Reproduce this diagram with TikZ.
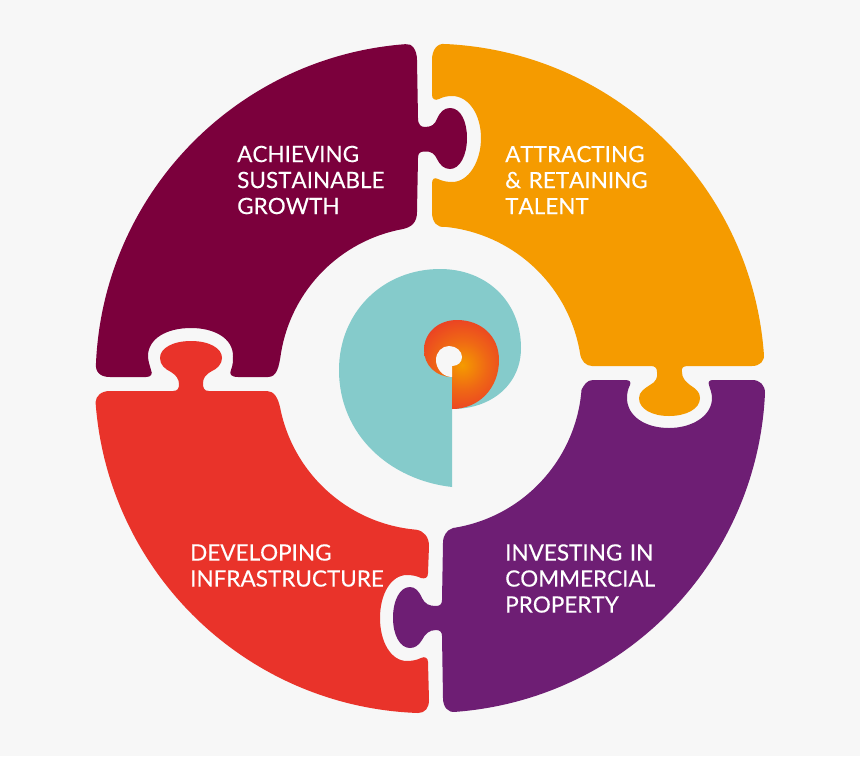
\documentclass[tikz,border=0pt]{standalone}
\usepackage{fontspec}
\setmainfont{Lato}[Kerning=Off,FakeBold=0.25,WordSpace=1.3]
\usepackage{xcolor}
\definecolor{paper}{HTML}{F7F7F7}
\definecolor{maroonpiece}{HTML}{7B003C}
\definecolor{orangepiece}{HTML}{F59B00}
\definecolor{redpiece}{HTML}{E9332A}
\definecolor{purplepiece}{HTML}{6E1E74}
\definecolor{tealspiral}{HTML}{85CBCB}
\pgfdeclareradialshading{spiralglow}{\pgfpointorigin}{color(0bp)=(orangepiece); color(12bp)=(redpiece!50!orangepiece); color(24bp)=(redpiece!90!orangepiece); color(32bp)=(redpiece); color(50bp)=(redpiece)}

\begin{document}
\begin{tikzpicture}[x=1pt, y=1pt, yscale=-1]
    % Styles
    \tikzstyle{label} = [text=white, align=left, anchor=west, inner sep=0pt, font=\fontsize{22.5}{26}\selectfont]

    % Background
    \fill[paper] (0,0) rectangle (860,756);
    \useasboundingbox (0,0) rectangle (860,756);

    % Maroon piece
    \fill[maroonpiece] (96,363) arc[start angle=182.6, end angle=265.7, radius=335]
        .. controls (412,43) and (417,50) .. (417,60)
        -- (418,118) .. controls (418,125) and (421,127) .. (425,127)
        .. controls (432,127) and (435,124) .. (437,119)
        .. controls (440,112) and (444,108) .. (450,108)
        .. controls (461,108) and (467,122) .. (467,138)
        .. controls (467,155) and (460,169) .. (450,169)
        .. controls (444,169) and (440,165) .. (437,159)
        .. controls (435,154) and (431,151) .. (425,151.5)
        .. controls (420,151.5) and (418,153) .. (418,158)
        -- (417,212) .. controls (417,222) and (412,227) .. (403,229)
        arc[start angle=259.7, end angle=189.5, radius=151]
        .. controls (279,367) and (277,377) .. (268,377)
        -- (238,377) .. controls (231,377) and (229,374) .. (231,370)
        .. controls (233,365) and (233,361) .. (233,356)
        .. controls (233,338) and (214,328) .. (191,328)
        .. controls (166,328) and (148,339) .. (148,356)
        .. controls (148,361) and (150,366) .. (151,370)
        .. controls (153,374) and (151,377) .. (146,377)
        -- (110,377) .. controls (100,377) and (95,372) .. (96,363) -- cycle;

    % Orange piece
    \fill[orangepiece] (445,44) arc[start angle=-87.4, end angle=-4.3, radius=335]
        .. controls (765,361) and (760,366) .. (752,366)
        -- (688,366) .. controls (683,366) and (681,368) .. (682,372)
        .. controls (682,378) and (685,381) .. (690,385)
        .. controls (696,389) and (700,392) .. (700,398)
        .. controls (700,409) and (686,416) .. (669,416)
        .. controls (652,416) and (639,409) .. (639,398)
        .. controls (639,392) and (645,388) .. (650,385)
        .. controls (656,382) and (658,377) .. (657,372)
        .. controls (657,368) and (655,366) .. (651,366)
        -- (592,366) .. controls (586,366) and (581,361) .. (580,353)
        arc[start angle=-9.5, end angle=-84.3, radius=152]
        .. controls (437,228) and (432,222) .. (432,212)
        -- (432,184) .. controls (432,179) and (434,177) .. (438,179)
        .. controls (442,181) and (447,182) .. (452,182)
        .. controls (469,182) and (481,161) .. (481,138)
        .. controls (481,115) and (469,96) .. (452,96)
        .. controls (447,96) and (443,97) .. (439,99)
        .. controls (435,101) and (432,99) .. (432,95)
        -- (432,60) .. controls (432,50) and (437,43) .. (445,44) -- cycle;

    % Purple piece
    \fill[purplepiece] (765,393) arc[start angle=2.6, end angle=85.7, radius=335]
        .. controls (448,713) and (443,707) .. (443,698)
        -- (442,636) .. controls (442,632) and (440,630) .. (436,630)
        .. controls (429,630) and (425,634) .. (422,640)
        .. controls (419,645) and (415,648) .. (410,648)
        .. controls (400,648) and (393,635) .. (393,618)
        .. controls (393,600) and (400,587) .. (410,587)
        .. controls (415,587) and (419,591) .. (422,598)
        .. controls (425,604) and (429,606) .. (436,606)
        .. controls (440,606) and (442,604) .. (442,600)
        -- (443,543) .. controls (443,535) and (447,530) .. (453,528)
        arc[start angle=81.3, end angle=4.5, radius=152]
        .. controls (584,385) and (587,380) .. (593,380)
        -- (625,380) .. controls (630,380) and (631,382) .. (630,385)
        .. controls (628,389) and (627,393) .. (627,398)
        .. controls (627,416) and (645,428) .. (669,428)
        .. controls (692,428) and (712,416) .. (712,398)
        .. controls (712,393) and (710,389) .. (709,385)
        .. controls (708,382) and (709,380) .. (713,380)
        -- (752,380) .. controls (760,380) and (765,385) .. (765,393) -- cycle;

    % Red piece
    \fill[redpiece] (418,713) arc[start angle=92, end angle=175.9, radius=335]
        .. controls (96,396) and (101,391) .. (110,391)
        -- (173,391) .. controls (178,391) and (179,388) .. (179,384)
        .. controls (179,379) and (176,375) .. (171,372)
        .. controls (165,369) and (160,365) .. (160,358)
        .. controls (160,348) and (173,341) .. (191,341)
        .. controls (209,341) and (222,348) .. (222,358)
        .. controls (222,364) and (217,369) .. (212,371)
        .. controls (206,374) and (203,378) .. (203,383)
        .. controls (203,388) and (204,391) .. (209,391)
        -- (267,391) .. controls (274,391) and (278,398) .. (280,407)
        arc[start angle=169.1, end angle=94.9, radius=152]
        .. controls (424,531) and (429,537) .. (429,546)
        -- (428,573) .. controls (428,578) and (425,579) .. (421,578)
        .. controls (417,576) and (412,575) .. (407,575)
        .. controls (391,575) and (380,594) .. (380,618)
        .. controls (380,642) and (391,661) .. (407,661)
        .. controls (412,661) and (417,660) .. (421,658)
        .. controls (425,656) and (428,658) .. (428,662)
        -- (429,700) .. controls (429,708) and (425,713) .. (418,713) -- cycle;

    % Spiral
    \fill[tealspiral] (452,487) .. controls (390,480) and (339,435) .. (339,370)
        .. controls (339,312) and (383,269) .. (440,269)
        .. controls (487,269) and (521,302) .. (521,348)
        .. controls (521,384) and (492,409) .. (452,409) -- cycle;
    \begin{scope}
        \clip (452,409) .. controls (479,409) and (499,388) .. (499,360)
            .. controls (499,336) and (481,320) .. (457,320)
            .. controls (438,320) and (424,333) .. (424,350)
            .. controls (424,365) and (436,377) .. (452,377) -- cycle;
        \shade[shading=spiralglow] (462,365) circle (52);
    \end{scope}
    \fill[paper] (452,366) .. controls (458,366) and (462,362) .. (462,357)
        .. controls (462,351) and (456,346) .. (449,346)
        .. controls (442,346) and (436,352) .. (436,360)
        .. controls (436,369) and (443,377) .. (452,377) -- cycle;

    % Labels
    \node[label] (growth) at (237,180) {ACHIEVING\\SUSTAINABLE\\GROWTH};
    \node[label] (talent) at (505,180) {ATTRACTING\\\& RETAINING\\TALENT};
    \node[label] (infrastructure) at (190,565.5) {DEVELOPING\\INFRASTRUCTURE};
    \node[label] (property) at (505,578.5) {INVESTING IN\\COMMERCIAL\\PROPERTY};
\end{tikzpicture}
\end{document}
